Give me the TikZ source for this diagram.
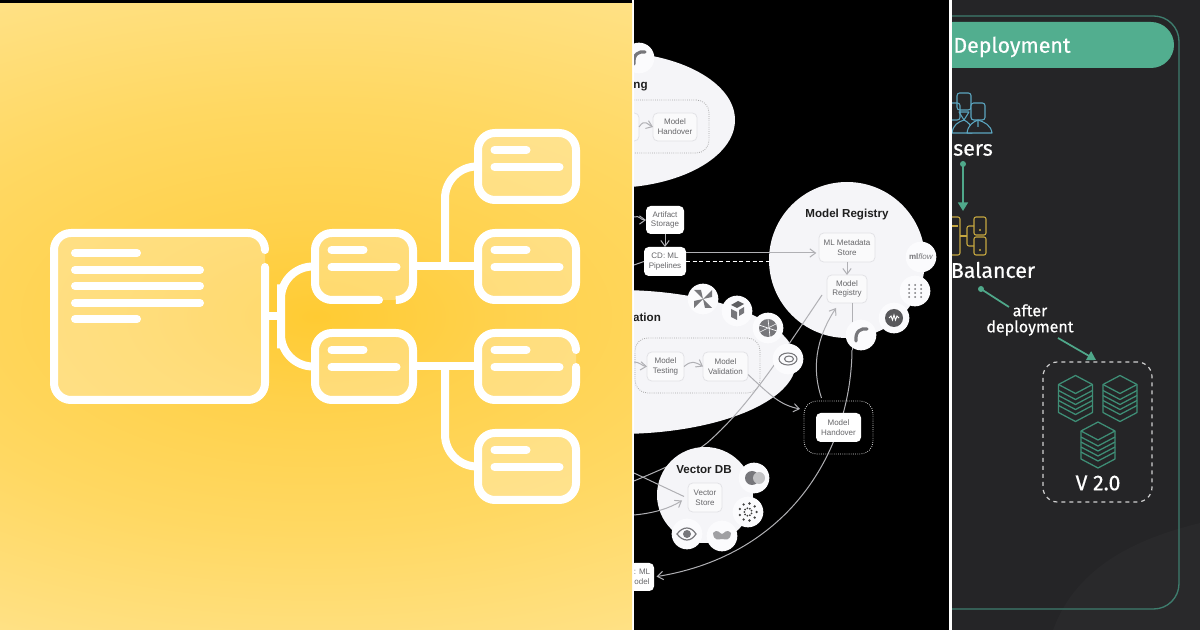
\documentclass[tikz,border=0pt]{standalone}
\usepackage{xcolor}
\usepackage{fontspec}
\setmainfont{Liberation Sans}
\newfontfamily\dinfont[RawFeature={embolden=0.5}]{Fira Sans}
\usepackage{tikz}
\usetikzlibrary{calc,arrows.meta,positioning,shapes.geometric}
\definecolor{glowa}{HTML}{FFCB33}
\definecolor{glowb}{HTML}{FFD14B}
\definecolor{glowc}{HTML}{FFD862}
\definecolor{glowd}{HTML}{FFE081}
\definecolor{glowe}{HTML}{FEE8A0}
\definecolor{glowf}{HTML}{FEEAAB}
\definecolor{softc}{HTML}{F5F5F8}
\definecolor{discc}{HTML}{FBFBFD}
\definecolor{edgec}{HTML}{E2E2E6}
\definecolor{wirec}{HTML}{B0B0B4}
\definecolor{labelc}{HTML}{666669}
\definecolor{glyphc}{HTML}{77777B}
\definecolor{slatec}{HTML}{252527}
\definecolor{slatehi}{HTML}{29292B}
\definecolor{framec}{HTML}{3E7D6E}
\definecolor{pillc}{HTML}{52AE8F}
\definecolor{tealc}{HTML}{4FA88A}
\definecolor{serverc}{HTML}{3E8E76}
\definecolor{userc}{HTML}{5BA6C0}
\definecolor{lbalc}{HTML}{C5A740}
\pgfdeclareradialshading{yellowglow}{\pgfpointorigin}{color(0bp)=(glowa); color(7bp)=(glowb); color(17bp)=(glowc); color(27bp)=(glowd); color(35bp)=(glowe); color(50bp)=(glowf)}
\tikzset{
  sized/.style 2 args={minimum width=#1*0.75pt,minimum height=#2*0.75pt,inner sep=0pt,outer sep=0pt},
  cardfill/.style={fill=white,fill opacity=.27,rounded corners=12.75pt},
  cardline/.style={draw=white,line width=6pt,rounded corners=12.75pt,line cap=round},
  wire/.style={draw=white,line width=6pt},
  bar/.style={draw=white,line width=6pt,line cap=round},
  lane/.style={ellipse,fill=softc,inner sep=0pt,outer sep=0pt},
  blob/.style={circle,fill=softc,inner sep=0pt,outer sep=0pt},
  zone/.style={draw=#1,densely dotted,line width=.6pt,rounded corners=9.5pt},
  stepbox/.style={rounded corners=3.5pt,fill=white,text=labelc,align=center,font=\fontsize{6}{7.4}\selectfont},
  softbox/.style={stepbox,draw=edgec,line width=.6pt,fill=softc!50!white},
  title/.style={font=\bfseries\fontsize{8.7}{10}\selectfont,text=black!88,inner sep=0pt},
  link/.style={draw=wirec,line width=.75pt},
  ar/.style={link,-{Straight Barb[length=1.5mm,width=2.2mm]}},
  icon/.style={circle,fill=discc,minimum size=23pt,inner sep=0pt,outer sep=0pt},
  din/.style 2 args={font=\dinfont\fontsize{#1}{#2}\selectfont,text=white,inner sep=0pt,align=center},
  teal/.style={draw=tealc,line width=1.3pt},
  usr/.style={draw=userc,line width=.8pt,line join=round},
  lbal/.style={draw=lbalc,line width=.8pt,rounded corners=1.5pt},
  srv/.style={draw=serverc,line width=.95pt,line join=round}
}
\newcommand{\cardbars}[1]{
  \draw[bar] ($(#1)+(-32.5,-16.5)$) -- ++(32,0);
  \draw[bar] ($(#1)+(-32.5,0.5)$) -- ++(65,0);
}
\newcommand{\servericon}[1]{
  \begin{scope}[shift={(#1)}]
    \draw[srv] (0,-23) -- (17,-14) -- (17,14) -- (0,23) -- (-17,14) -- (-17,-14) -- cycle;
    \draw[srv] (-17,-14) -- (0,-5) -- (17,-14);
    \foreach \yy in {-8,-3,2,7} {\draw[srv] (-17,\yy) -- (0,\yy+9) -- (17,\yy);}
  \end{scope}
}
\begin{document}
\begin{tikzpicture}[x=0.75pt,y=-0.75pt]
\fill[white] (0,0) rectangle (1200,630);
\useasboundingbox (0,0) rectangle (1200,630);

\begin{scope}
\clip (0,0) rectangle (632,630);
\shade[shading=yellowglow] (-300,3) rectangle (932,630);
\fill[black] (0,0) rectangle (632,3);
\node[sized={211}{167},cardfill] (docbox) at (159.5,316.5) {};
\node[sized={98}{67},cardfill] (mida) at (364,266.5) {};
\node[sized={98}{67},cardfill] (midb) at (364,366.5) {};
\foreach \nm/\yy in {lfa/166.5,lfb/266.5,lfc/366.5,lfd/466.5} {
  \node[sized={98}{67},cardfill] (\nm) at (527,\yy) {};
}
\coordinate (trunk) at (281,316.5);
\coordinate (forkup) at (445,266.5);
\coordinate (forkdn) at (445,366.5);
\draw[wire] (docbox.east) -- (trunk);
\draw[wire,rounded corners=24pt] (mida.west) -| (trunk) |- (midb.west);
\draw[wire] (mida.east) -- (lfb.west);
\draw[wire] (midb.east) -- (lfc.west);
\draw[wire,rounded corners=24pt] (forkup) |- (lfa.west);
\draw[wire,rounded corners=24pt] (forkdn) |- (lfd.west);
\draw[cardline] ($(docbox.east)+(0,-66.5)$) -- (docbox.north east) -- (docbox.north west) -- (docbox.south west) -- (docbox.south east) -- ($(docbox.east)+(0,-49.5)$);
\draw[cardline] ($(mida.south)+(15,0)$) -- (mida.south west) -- (mida.north west) -- (mida.north east) -- (mida.south east) -- ($(mida.south)+(33,0)$);
\foreach \nm in {midb,lfa,lfb,lfd} {
  \node[sized={98}{67},cardline] at (\nm) {};
}
\draw[cardline] ($(lfc.east)+(0,-16.5)$) -- (lfc.north east) -- (lfc.north west) -- (lfc.south west) -- (lfc.south east) -- ($(lfc.east)+(0,0.5)$);
\foreach \yy/\xe in {253/137,270/200,286/200,303/200,319/137} {
  \draw[bar] (75,\yy) -- (\xe,\yy);
}
\foreach \nm in {mida,midb,lfa,lfb,lfc,lfd} {
  \cardbars{\nm}
}
\end{scope}

\begin{scope}
\clip (634,0) rectangle (949,630);
\fill[black] (634,0) rectangle (949,630);
\node[lane,minimum width=187.5pt,minimum height=102pt] (trainlane) at (610,120) {};
\node[lane,minimum width=267pt,minimum height=108pt] (vallane) at (618,362) {};
\node[blob,minimum size=117pt] (regblob) at (847,260) {};
\node[title] at (640.5,87) {ng};
\node[title] at (647,317) {ation};
\node[title] at (847,215) {Model Registry};
\node[sized={160}{53},zone=gray!70] (trainzone) at (629,126.5) {};
\node[sized={125}{55},zone=gray!70] (valzone) at (697.5,365.5) {};
\node[sized={69}{53},zone=white!85!black] (handzone) at (838.5,427.5) {};
\node[sized={29}{28},softbox] (pretrain) at (624.5,127) {};
\node[sized={44}{28},softbox] (handa) at (675,127) {Model\\Handover};
\node[sized={38}{28},stepbox] (artifact) at (665,220) {Artifact\\Storage};
\node[sized={42}{29},stepbox] (cdpipe) at (665,261.5) {CD: ML\\Pipelines};
\node[sized={56}{29},softbox] (metastore) at (847,247.5) {ML Metadata\\Store};
\node[sized={40}{28},softbox] (regbox) at (847,289) {Model\\Registry};
\node[sized={37}{29},softbox] (testbox) at (665.5,366.5) {Model\\Testing};
\node[sized={45}{29},softbox] (valbox) at (725.5,366.5) {Model\\Validation};
\coordinate (artin) at (634,217);
\coordinate (cdin) at (634,265);
\coordinate (testin) at (634,362);
\coordinate (vecout) at (634,481);
\coordinate (vecsta) at (634,473);
\coordinate (vecstb) at (634,515);
\draw[ar] (pretrain.east) .. controls (645,118) and (648,125) .. (handa.west);
\draw[ar] (artin) .. controls (640,215) and (640,220) .. (artifact.west);
\draw[ar] (artifact.south) -- (cdpipe.north);
\draw[link] (cdin) -- (cdpipe.west);
\draw[ar,shorten >=2pt] ($(cdpipe.east)+(0,-8.5)$) -- ($(metastore.west)+(0,5.5)$);
\draw[white,densely dashed,line width=.8pt] (cdpipe.east) -- (cdpipe.east -| regblob.west);
\draw[ar] (metastore.south) -- (regbox.north);
\draw[ar] (testin) .. controls (640,362) and (642,366) .. (testbox.west);
\draw[ar] (testbox.east) .. controls (692,360) and (695,362) .. (valbox.west);
\draw[ar] ($(valbox.east)+(0,8)$) .. controls (770,395) and (780,405) .. ($(handzone.west)+(-4,-18.5)$);
\draw[ar] ($(handzone.north)+(-17,-3)$) .. controls (812,370) and (815,340) .. ($(regbox.south)+(-11,5)$);
\draw[link] ($(regbox.south)+(5,0)$) -- (852,350);
\draw[ar,shorten >=2pt] (852,350) .. controls (851,450) and (790,555) .. (654,577);
\draw[link] (vecout) .. controls (660,470) and (685,460) .. (707,443) .. controls (745,410) and (775,365) .. ($(regbox.west)+(-5,6)$);
\node[blob,minimum size=72pt] (vecblob) at (705,495) {};
\node[title] at (704,470) {Vector DB};
\node[sized={34}{29},softbox] (vecbox) at (705,497.5) {Vector\\Store};
\draw[link] (vecsta) -- ($(vecbox.west)+(-4,-1)$);
\draw[ar] (vecstb) .. controls (655,513) and (670,508) .. ($(vecbox.west)+(-6,3)$);
\node[sized={45}{29},stepbox] (handb) at (838.5,427.5) {Model\\Handover};
\node[sized={24}{28},stepbox] (outbox) at (642,577) {: ML\\odel};

\node[icon] (icseldon) at (639,58) {};
\node[icon] (icpin) at (703,299) {};
\node[icon] (iccube) at (737,311) {};
\node[icon] (icsphere) at (768,328) {};
\node[icon] (icnv) at (788,359) {};
\node[icon] (icmlf) at (921,257) {};
\node[icon] (icdots) at (915,291) {};
\node[icon] (icwave) at (894,318) {};
\node[icon] (icarc) at (861,335) {};
\node[icon] (icdisc) at (754,478) {};
\node[icon] (icnet) at (748,512) {};
\node[icon] (icweav) at (722,536) {};
\node[icon] (iceye) at (687,534) {};

\foreach \nm in {icseldon,icarc} {
  \draw[glyphc,line width=2.4pt,line cap=round] ($(\nm)+(-5,6)$) .. controls ($(\nm)+(-6,-4)$) and ($(\nm)+(0,-7)$) .. ($(\nm)+(6,-6)$);
}
\begin{scope}[shift={(icpin)}]
  \fill[glyphc] (0,0) -- (-9,-9) -- (-2,-9) -- cycle (0,0) -- (9,-9) -- (9,-2) -- cycle (0,0) -- (9,9) -- (2,9) -- cycle (0,0) -- (-9,9) -- (-9,2) -- cycle;
\end{scope}
\begin{scope}[shift={(iccube)}]
  \fill[glyphc!80!black] (-6,-6) -- (1,-10) -- (7,-7) -- (0,-3) -- cycle;
  \fill[glyphc] (-6,-2) -- (0,1) -- (0,9) -- (-6,6) -- cycle (2,-1) -- (7,-4) -- (7,2) -- (2,5) -- cycle;
\end{scope}
\begin{scope}[shift={(icsphere)}]
  \fill[glyphc] (0,0) circle (9);
  \draw[discc,line width=.5pt] (-9,-3) -- (9,3) (-8,4) -- (8,-4) (0,-9) -- (2,9);
\end{scope}
\begin{scope}[shift={(icnv)}]
  \draw[glyphc,line width=.8pt] (0,0) ellipse (9 and 6) (1,0) ellipse (4.5 and 3);
\end{scope}
\node[inner sep=0pt,text=glyphc,font=\fontsize{6}{7}\selectfont] at (icmlf) {\textbf{ml}\textit{flow}};
\foreach \xx in {-6,0,6} {
  \foreach \yy in {-6,-2,2,6} {
    \fill[glyphc] ($(icdots)+(\xx,\yy)$) circle (1);
  }
}
\fill[glyphc!75!black] (icwave) circle (9);
\draw[white,line width=.7pt] ($(icwave)+(-5,0)$) -- ++(2,-2) -- ++(1.5,4) -- ++(1.5,-5) -- ++(1.5,5) -- ++(1.5,-4) -- ++(2,2);
\fill[glyphc] ($(icdisc)+(-2,0)$) circle (7);
\fill[glyphc!45!white] ($(icdisc)+(5,0)$) circle (6);
\foreach \ang in {0,40,...,320} {
  \fill[black!75] ($(icnet)+(\ang:6.5pt)$) circle (1.3);
  \fill[black!75] ($(icnet)+(\ang+20:2.8pt)$) circle (1);
}
\fill[glyphc!70!white] ($(icweav)+(-9,-3)$) .. controls ($(icweav)+(-4,-8)$) and ($(icweav)+(-2,-2)$) .. ($(icweav)+(0,-2)$) .. controls ($(icweav)+(2,-2)$) and ($(icweav)+(4,-8)$) .. ($(icweav)+(9,-3)$) .. controls ($(icweav)+(8,6)$) and ($(icweav)+(3,3)$) .. ($(icweav)+(0,3)$) .. controls ($(icweav)+(-3,3)$) and ($(icweav)+(-8,6)$) .. cycle;
\draw[glyphc,line width=.9pt] ($(iceye)+(-10,0)$) .. controls ($(iceye)+(-4,-8)$) and ($(iceye)+(4,-8)$) .. ($(iceye)+(9,0)$) .. controls ($(iceye)+(4,8)$) and ($(iceye)+(-4,8)$) .. cycle;
\fill[glyphc] (iceye) circle (4);
\end{scope}

\begin{scope}
\clip (952,0) rectangle (1200,630);
\fill[slatec] (952,0) rectangle (1200,630);
\fill[slatehi] (1053,630) .. controls (1075,570) and (1130,540) .. (1200,523) -- (1200,630) -- cycle;
\draw[framec,line width=1pt,rounded corners=19pt] (930,16) -- (1179,16) -- (1179,609) -- (930,609);
\fill[pillc,rounded corners=17.25pt] (930,22) -- (1174,22) -- (1174,68) -- (930,68) -- cycle;
\node[din={16}{18}] (depltxt) at (1012,47) {Deployment};
\node[din={16}{18}] (usrtxt) at (973,150) {sers};
\node[din={16}{18}] (baltxt) at (993,270) {Balancer};
\node[din={12}{12}] (aftertxt) at (1030,320) {after\\deployment};
\coordinate (usrdot) at (963,164);
\coordinate (baltop) at (963,211);
\coordinate (baldot) at (981,289);
\coordinate (balend) at (1009,307);
\coordinate (depend) at (1058,338);
\draw[teal,-{Triangle[length=6.5pt,width=7.5pt]}] (usrdot) -- (baltop);
\fill[tealc] (usrdot) circle (3);
\draw[teal] (baldot) -- (balend);
\fill[tealc] (baldot) circle (3);
\node[sized={109}{140},draw=white!82!black,dashed,line width=.9pt,rounded corners=11pt] (v2zone) at (1097.5,432) {};
\draw[teal,-{Triangle[length=6.5pt,width=7.5pt]}] (depend) -- ($(v2zone.north)+(-1.5,-2)$);
\servericon{1075.5,398.5}
\servericon{1120,398.5}
\servericon{1098,445}
\node[din={16}{18}] (vertxt) at (1098,483) {V 2.0};

\draw[usr,rounded corners=2pt] (957,93) rectangle (971,110);
\draw[usr,rounded corners=2pt] (949,103) rectangle (960,120);
\draw[usr,rounded corners=2pt,fill=slatec] (971,103) rectangle (985,120);
\draw[usr] (952,133) .. controls (953,125) and (958,122) .. (964,120) .. controls (968,122) and (972,125) .. (972,133) -- cycle;
\draw[usr,fill=slatec] (967,133) .. controls (968,125) and (973,122) .. (978,120) .. controls (984,122) and (991,125) .. (992,133) -- cycle;
\draw[usr] (978,120) -- (978,127) (959,112) -- (969,112) -- (964,120) -- cycle;

\draw[lbal] (945,217) rectangle (960,255);
\draw[lbal] (974,217) rectangle (986,235);
\draw[lbal] (974,237) rectangle (986,255);
\draw[lbal] (960,236) -- (967,236);
\draw[lbal] (974,226) -- (967,226) -- (967,246) -- (974,246);
\draw[lbal] (952,226) -- (958,226);
\fill[lbalc] (980,230) circle (1.2) (980,250) circle (1.2);
\end{scope}
\end{tikzpicture}
\end{document}
